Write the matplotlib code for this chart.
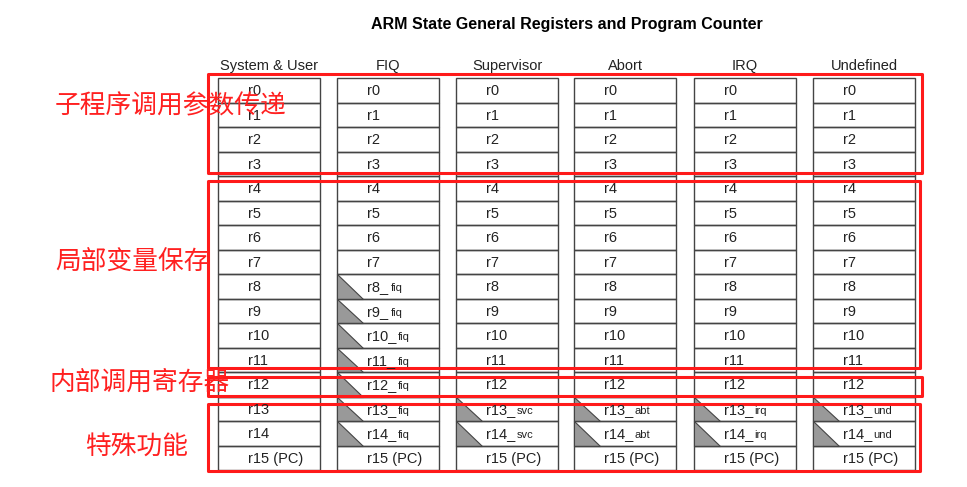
import matplotlib
matplotlib.use("Agg")
import matplotlib.pyplot as plt
from matplotlib.patches import Rectangle, Polygon

plt.rcParams['font.family'] = ['Liberation Sans', 'Noto Sans CJK SC', 'DejaVu Sans']

title = "ARM State General Registers and Program Counter"
modes = ["System & User", "FIQ", "Supervisor", "Abort", "IRQ", "Undefined"]
suffixes = ["", "fiq", "svc", "abt", "irq", "und"]
banked_from = [16, 8, 13, 13, 13, 13]
registers = ["r%d" % i for i in range(15)] + ["r15 (PC)"]
annotations = ["子程序调用参数传递", "局部变量保存", "内部调用寄存器", "特殊功能"]

fig = plt.figure(figsize=(9.67, 4.87), dpi=100)
ax = fig.add_axes([0, 0, 1, 1])
ax.set_xlim(0, 967); ax.set_ylim(487, 0); ax.axis("off")

col_left = [218, 337, 456, 574, 694, 813]
cw = 102
top = 78
rh = 24.5

ax.text(567, 24, title, ha="center", va="center", fontsize=11.5, fontweight="bold")
for c, m in enumerate(modes):
    L = col_left[c]
    ax.text(L + cw / 2, 66, m, ha="center", va="center", fontsize=10.5, color="#222")
    for r, reg in enumerate(registers):
        y0 = top + r * rh
        ax.add_patch(Rectangle((L, y0), cw, rh, fill=False, ec="#444", lw=1))
        if r >= banked_from[c] and r < 15:
            ax.add_patch(Polygon([(L, y0), (L, y0 + rh), (L + 26, y0 + rh)], closed=True,
                                 fc="#999", ec="#444", lw=0.8))
            ax.text(L + 30, y0 + rh / 2 + 1, reg + "_", ha="left", va="center", fontsize=10.5, color="#222")
            ax.text(L + 30 + (len(reg) + 1) * 6.6 + 4, y0 + rh / 2 + 2, suffixes[c], ha="left",
                    va="center", fontsize=8, color="#222")
        else:
            ax.text(L + 30, y0 + rh / 2 + 1, reg, ha="left", va="center", fontsize=10.5, color="#222")

red_boxes = [(208, 74, 714, 99), (208, 181, 712, 187), (208, 377, 714, 19), (208, 404, 712, 67)]
for (x, y, w, h) in red_boxes:
    ax.add_patch(Rectangle((x, y), w, h, fill=False, ec="#ff1a1a", lw=2.2, joinstyle="round"))

ann_pos = [(55, 106), (55, 263), (50, 383), (85, 447)]
for t, (x, y) in zip(annotations, ann_pos):
    ax.text(x, y, t, ha="left", va="center", fontsize=18.5, color="#ff2020",
            family=['Noto Sans CJK SC', 'DejaVu Sans'])

fig.savefig("out.png", dpi=100)
